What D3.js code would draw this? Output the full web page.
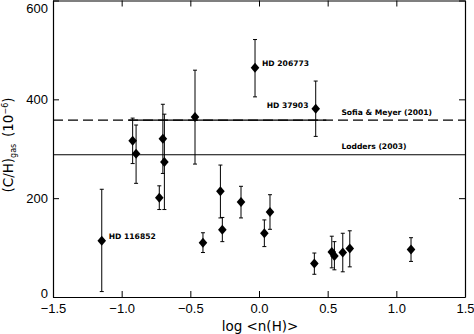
<!DOCTYPE html>
<html><head><meta charset="utf-8">
<script src="https://cdn.jsdelivr.net/npm/d3@7"></script>
<style>
html,body{margin:0;padding:0;background:#fff;}
svg{display:block;font-family:"DejaVu Sans",sans-serif;}
</style></head>
<body>
<script>
// Data: log <n(H)>, (C/H)gas, error-bar low, error-bar high
const logNH  = [-1.145,-0.92,-0.895,-0.726,-0.70,-0.689,-0.466,-0.408,-0.281,-0.267,-0.131,-0.029,0.039,0.080,0.403,0.413,0.530,0.549,0.610,0.661,1.107];
const cH     = [114,316,290,201,320,273,364,110,214,136,192,464,129,172,68,381,91,83,90,98,96];
const errLo  = [11,270,230,177,250,177,269,90,160,112,160,405,102,137,46,325,59,55,51,61,72];
const errHi  = [218,362,348,225,390,370,459,130,267,161,224,521,156,207,89,437,123,112,129,134,120];
const pointLabels = [
  {i:0, text:"HD 116852"},
  {i:11, text:"HD 206773"},
  {i:15, text:"HD 37903"}
];
const refNames  = ["Sofia & Meyer (2001)","Lodders (2003)"];
const refValues = [358,288];
const xTicks = [-1.5,-1.0,-0.5,0.0,0.5,1.0,1.5];
const yTicks = [0,200,400,600];

const W=474,H=334;
const m={l:53,r:465,t:0.5,b:297};
const x=d3.scaleLinear().domain([-1.5,1.5]).range([m.l,m.r]);
const y=d3.scaleLinear().domain([0,600]).range([m.b,m.t]);

const svg=d3.select("body").append("svg").attr("width",W).attr("height",H);

// reference lines
svg.append("line").attr("x1",x(-1.5)).attr("x2",x(1.5))
  .attr("y1",y(refValues[0])).attr("y2",y(refValues[0]))
  .attr("stroke","#000").attr("stroke-width",1.1).attr("stroke-dasharray","10,5");
svg.append("line").attr("x1",x(-0.95)).attr("x2",x(0.49))
  .attr("y1",y(refValues[0])).attr("y2",y(refValues[0]))
  .attr("stroke","#000").attr("stroke-width",1.1);
svg.append("line").attr("x1",x(-1.5)).attr("x2",x(1.5))
  .attr("y1",y(refValues[1])).attr("y2",y(refValues[1]))
  .attr("stroke","#000").attr("stroke-width",1.1);

svg.append("text").attr("x",x(0.6)).attr("y",y(refValues[0])-5)
  .attr("font-size",7.6).attr("font-weight","bold").text(refNames[0]);
svg.append("text").attr("x",x(0.6)).attr("y",y(refValues[1])-6)
  .attr("font-size",7.6).attr("font-weight","bold").text(refNames[1]);

// axes frame
const axStyle=g=>{g.selectAll("path").attr("stroke","#000").attr("stroke-width",1.2);
  g.selectAll("line").attr("stroke","#000");};
const xMinor=d3.range(-1.5,1.501,0.1).map(v=>+v.toFixed(2));
const yMinor=d3.range(0,601,50);

function addX(pos,labels){
  const ax=(pos==="b"?d3.axisBottom(x):d3.axisTop(x));
  const g=svg.append("g").attr("transform",`translate(0,${pos==="b"?m.b:m.t})`);
  g.call(ax.tickValues(xMinor).tickSize(-3).tickFormat(""));
  g.call(ax.tickValues(xTicks).tickSize(-6).tickSizeOuter(0)
    .tickFormat(labels?(d=>d3.format(".1f")(d).replace("-","\u2212")):""));
  axStyle(g);
  g.selectAll("text").attr("font-size",13).attr("fill","#000").attr("dy",null).attr("y",16);
}
function addY(pos,labels){
  const ax=(pos==="l"?d3.axisLeft(y):d3.axisRight(y));
  const g=svg.append("g").attr("transform",`translate(${pos==="l"?m.l:m.r},0)`);
  g.call(ax.tickValues(yMinor).tickSize(-3).tickFormat(""));
  g.call(ax.tickValues(yTicks).tickSize(-6).tickSizeOuter(0).tickFormat(labels?d3.format("d"):""));
  axStyle(g);
  g.selectAll("text").attr("font-size",13).attr("fill","#000").attr("x",-5);
  g.selectAll(".tick").filter(d=>d===600).select("text").attr("dy","0.9em");
  g.selectAll(".tick").filter(d=>d===0).select("text").attr("dy","0");
}
addX("b",true);addX("t",false);addY("l",true);addY("r",false);

// error bars
const idx=d3.range(logNH.length);
const eb=svg.append("g").attr("stroke","#000").attr("stroke-width",1);
eb.selectAll(".v").data(idx).join("line")
  .attr("x1",i=>x(logNH[i])).attr("x2",i=>x(logNH[i]))
  .attr("y1",i=>y(errLo[i])).attr("y2",i=>y(errHi[i]));
eb.selectAll(".ct").data(idx).join("line")
  .attr("x1",i=>x(logNH[i])-2).attr("x2",i=>x(logNH[i])+2)
  .attr("y1",i=>y(errHi[i])).attr("y2",i=>y(errHi[i]));
eb.selectAll(".cb").data(idx).join("line")
  .attr("x1",i=>x(logNH[i])-2).attr("x2",i=>x(logNH[i])+2)
  .attr("y1",i=>y(errLo[i])).attr("y2",i=>y(errLo[i]));

// diamond markers
svg.append("g").selectAll("path").data(idx).join("path")
  .attr("d","M0,-5L4.3,0L0,5L-4.3,0Z")
  .attr("transform",i=>`translate(${x(logNH[i])},${y(cH[i])})`)
  .attr("fill","#000");

// point labels
svg.append("g").selectAll("text").data(pointLabels).join("text")
  .attr("x",d=>d.i===15?x(logNH[d.i])-49:x(logNH[d.i])+7)
  .attr("y",d=>d.i===15?y(cH[d.i])-1:y(cH[d.i])-2)
  .attr("font-size",7.6).attr("font-weight","bold").text(d=>d.text);

// axis titles
svg.append("text").attr("x",(m.l+m.r)/2+1).attr("y",331).attr("text-anchor","middle")
  .attr("font-size",13.5).text("log <n(H)>");
const yl=svg.append("text").attr("transform","translate(13,145) rotate(-90)")
  .attr("text-anchor","middle").attr("font-size",13.5);
yl.append("tspan").text("(C/H)");
yl.append("tspan").attr("font-size",8).attr("dy",3).text("gas");
yl.append("tspan").attr("dy",-3).text("\u2002(10");
yl.append("tspan").attr("font-size",8).attr("dy",-5).text("\u22126");
yl.append("tspan").attr("dy",5).text(")");
</script>
</body></html>
